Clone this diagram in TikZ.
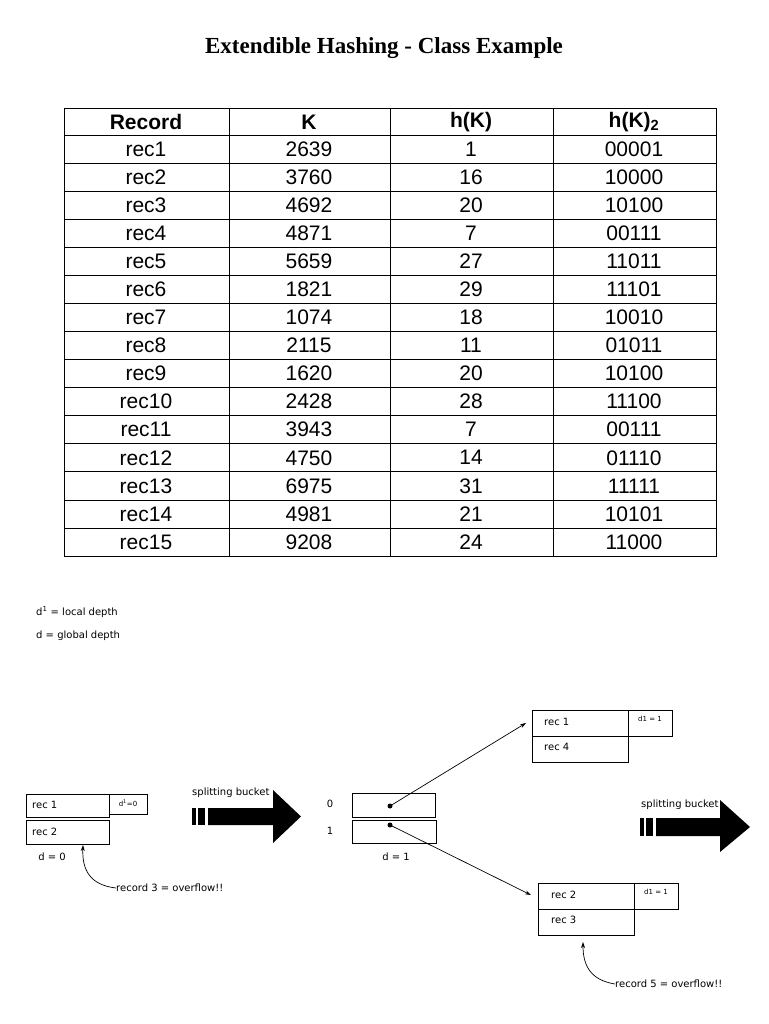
\documentclass[tikz,border=0pt]{standalone}
\usepackage{fontspec}
\setmainfont{Liberation Serif}
\newfontfamily\tabfont{Liberation Sans}
\newfontfamily\dv{DejaVu Sans}
\usetikzlibrary{arrows.meta}
\begin{document}
\begin{tikzpicture}[x=1pt,y=-1pt,
  cell/.style={font=\tabfont\fontsize{21}{21}\selectfont,anchor=center},
  small/.style={font=\dv\fontsize{10}{10}\selectfont,inner sep=0pt},
  tiny/.style={font=\dv\fontsize{7}{7}\selectfont,inner sep=0pt},
  box/.style={draw,line width=0.8pt},
  ptr/.style={-{Stealth[length=6pt,width=4pt]},line width=0.7pt},
  fat/.style={fill=black}]
\useasboundingbox (0,0) rectangle (768,1024);
\node[font=\bfseries\fontsize{23}{23}\selectfont] (title) at (384,48) {Extendible Hashing - Class Example};
% table
\def\rh{28.07}
\draw[line width=0.8pt] (64,108) rectangle (716,556);
\foreach \x in {229,390,553} \draw[line width=0.8pt] (\x,108) -- (\x,556);
\foreach \i in {0,...,14} \draw[line width=0.8pt] (64,{135+\i*\rh}) -- (716,{135+\i*\rh});
\node[cell,font=\tabfont\bfseries\fontsize{21}{21}\selectfont] (h1) at (146,122) {Record};
\node[cell,font=\tabfont\bfseries\fontsize{21}{21}\selectfont] (h2) at (309,122) {K};
\node[cell,font=\tabfont\bfseries\fontsize{21}{21}\selectfont] (h3) at (471,122) {h(K)};
\node[cell,font=\tabfont\bfseries\fontsize{21}{21}\selectfont] (h4) at (634,122) {h(K)\textsubscript{2}};
\foreach \r/\k/\h/\b [count=\i from 0] in {rec1/2639/1/00001,rec2/3760/16/10000,rec3/4692/20/10100,rec4/4871/7/00111,rec5/5659/27/11011,rec6/1821/29/11101,rec7/1074/18/10010,rec8/2115/11/01011,rec9/1620/20/10100,rec10/2428/28/11100,rec11/3943/7/00111,rec12/4750/14/01110,rec13/6975/31/11111,rec14/4981/21/10101,rec15/9208/24/11000}{
  \node[cell] (r\i a) at (146,{149+\i*\rh}) {\r};
  \node[cell] (r\i b) at (309,{149+\i*\rh}) {\k};
  \node[cell] (r\i c) at (471,{149+\i*\rh}) {\h};
  \node[cell] (r\i d) at (634,{149+\i*\rh}) {\b};
}
% legend
\node[small,anchor=west] (l1) at (36,612) {d\textsuperscript{1} = local depth};
\node[small,anchor=west] (l2) at (36,636) {d = global depth};
% left bucket
\draw[box] (26,794) rectangle (109,817); \node[small,anchor=west] (a1) at (32,805) {rec 1};
\draw[box] (109,794) rectangle (147,814); \node[tiny] (ad) at (128,803) {d\textsuperscript{1}=0};
\draw[box] (26,820) rectangle (109,844); \node[small,anchor=west] (a2) at (32,832) {rec 2};
\node[small] (d0) at (52,857) {d = 0};
\node[small,anchor=west] (ov1) at (116,888) {record 3 = overflow!!};
\coordinate (t1) at (83,845);
\draw[ptr] (ov1.west) .. controls (90,885) and (82,870) .. (t1);
% fat arrow 1
\node[small,anchor=west] (sb1) at (192,793) {splitting bucket};
\fill (192,808) rectangle (196,825);
\fill (198,808) rectangle (205,825);
\fill (208,808) -- (273,808) -- (273,790) -- (301,816.5) -- (273,843) -- (273,825) -- (208,825) -- cycle;
% directory
\draw[box] (352,793) rectangle (435,817);
\draw[box] (352,820) rectangle (436,843);
\node[small] (z0) at (330,804) {0};
\node[small] (z1) at (330,831) {1};
\node[small] (d1) at (396,857) {d = 1};
\fill (390,806) circle (2.5) coordinate (p0);
\fill (390,825) circle (2.5) coordinate (p1);
% top bucket
\draw[box] (532,710) rectangle (628,736); \node[small,anchor=west] (b1) at (544,722) {rec 1};
\draw[box] (628,710) rectangle (672,736); \node[tiny] (bd) at (650,719) {d1 = 1};
\draw[box] (532,736) rectangle (628,762); \node[small,anchor=west] (b4) at (544,747) {rec 4};
\coordinate (e0) at (526,723);
\draw[ptr] (p0) -- (e0);
% bottom bucket
\draw[box] (538,883) rectangle (634,909); \node[small,anchor=west] (c2) at (551,895) {rec 2};
\draw[box] (634,883) rectangle (678,909); \node[tiny] (cd) at (656,892) {d1 = 1};
\draw[box] (538,909) rectangle (634,935); \node[small,anchor=west] (c3) at (551,920) {rec 3};
\coordinate (e1) at (531,895);
\draw[ptr] (p1) -- (e1);
\node[small,anchor=west] (ov2) at (615,984) {record 5 = overflow!!};
\coordinate (t2) at (583,942);
\draw[ptr] (ov2.west) .. controls (590,980) and (583,965) .. (t2);
% fat arrow 2
\node[small,anchor=west] (sb2) at (641,805) {splitting bucket};
\fill (640,818) rectangle (644,836);
\fill (646,818) rectangle (653,836);
\fill (656,818) -- (720,818) -- (720,800) -- (750,827) -- (720,852) -- (720,836) -- (656,836) -- cycle;
\end{tikzpicture}
\end{document}
